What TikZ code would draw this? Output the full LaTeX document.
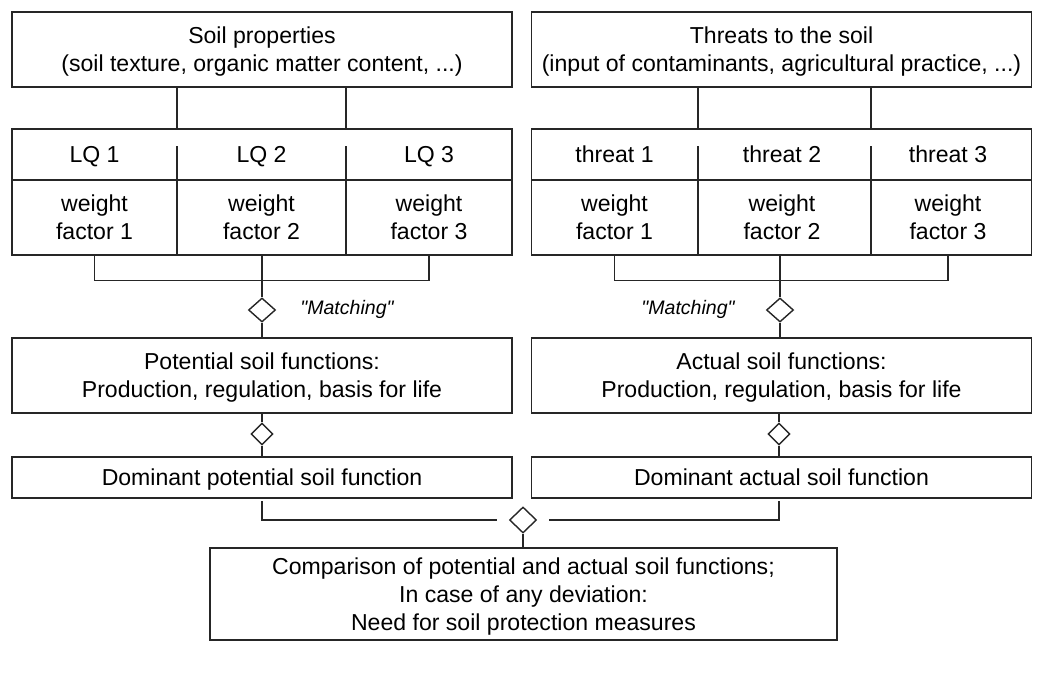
\documentclass[tikz,border=0pt]{standalone}
\usepackage{fontspec}
\setmainfont{Liberation Sans}
\usetikzlibrary{shapes.geometric}

\tikzset{
	box/.style={draw=black!85, line width=1pt, inner sep=0pt, align=center, text depth=0pt,
		minimum width=12.5cm, font=\fontsize{16.4}{19.9}\selectfont},
	lbl/.style={inner sep=0pt, align=center, text depth=0pt, font=\fontsize{16.4}{19.9}\selectfont},
	gate/.style={draw=black!85, line width=1pt, diamond, inner sep=0pt,
		minimum width=0.675cm, minimum height=0.6cm},
	small gate/.style={gate, minimum width=0.55cm, minimum height=0.55cm},
	match/.style={inner sep=0pt, font=\fontsize{13.9}{16}\selectfont\itshape},
	link/.style={draw=black!85, line width=1pt}
}

\begin{document}
\begin{tikzpicture}[x=0.025cm, y=-0.025cm]
	\useasboundingbox (0,0) rectangle (1060,678);

	% left column
	\node[box, minimum height=1.875cm]  (props)  at (262,49.5)  {Soil properties\\(soil texture, organic matter content, ...)};
	\node[box, minimum height=1.275cm]  (lqhead) at (262,154.5) {};
	\node[box, minimum height=1.875cm]  (lqwt)   at (262,217.5) {};
	\node[lbl] (lq1) at (94.5,154.5)  {LQ 1};
	\node[lbl] (lq2) at (261.5,154.5) {LQ 2};
	\node[lbl] (lq3) at (429,154.5)   {LQ 3};
	\node[lbl] (lw1) at (94.5,217.5)  {weight\\factor 1};
	\node[lbl] (lw2) at (261.5,217.5) {weight\\factor 2};
	\node[lbl] (lw3) at (429,217.5)   {weight\\factor 3};
	\coordinate (ld1) at (177,146);
	\coordinate (ld2) at (346,146);

	\node[gate]  (mpot) at (262,310) {};
	\node[match] (mlbl) at (347,309) {\textquotedbl Matching\textquotedbl};
	\node[box, minimum height=1.875cm]  (potential) at (262,375.5) {Potential soil functions:\\Production, regulation, basis for life};
	\node[small gate] (gpot) at (262,434) {};
	\node[box, minimum height=1.025cm]  (dompot) at (262,477.5) {Dominant potential soil function};

	% right column
	\node[box, minimum height=1.875cm]  (threats) at (781.5,49.5)  {Threats to the soil\\(input of contaminants, agricultural practice, ...)};
	\node[box, minimum height=1.275cm]  (thhead)  at (781.5,154.5) {};
	\node[box, minimum height=1.875cm]  (thwt)    at (781.5,217.5) {};
	\node[lbl] (th1) at (614.5,154.5) {threat 1};
	\node[lbl] (th2) at (782,154.5)   {threat 2};
	\node[lbl] (th3) at (948,154.5)   {threat 3};
	\node[lbl] (tw1) at (614.5,217.5) {weight\\factor 1};
	\node[lbl] (tw2) at (782,217.5)   {weight\\factor 2};
	\node[lbl] (tw3) at (948,217.5)   {weight\\factor 3};
	\coordinate (rd1) at (698,146);
	\coordinate (rd2) at (871,146);

	\node[gate]  (mact) at (780,310) {};
	\node[match] (albl) at (688,309) {\textquotedbl Matching\textquotedbl};
	\node[box, minimum height=1.875cm]  (actual) at (781.5,375.5) {Actual soil functions:\\Production, regulation, basis for life};
	\node[small gate] (gact) at (779,434) {};
	\node[box, minimum height=1.025cm]  (domact) at (781.5,477.5) {Dominant actual soil function};

	% bottom
	\node[gate, minimum width=0.675cm, minimum height=0.65cm] (gcmp) at (523,520) {};
	\node[box, minimum width=15.675cm, minimum height=2.3cm] (cmp) at (523.5,594)
		{Comparison of potential and actual soil functions;\\In case of any deviation:\\Need for soil protection measures};
	\coordinate (pj) at (262,501);
	\coordinate (aj) at (779,501);

	% links, left
	\draw[link] (props.south -| ld1) -- (lqhead.north -| ld1);
	\draw[link] (props.south -| ld2) -- (lqhead.north -| ld2);
	\draw[link] (ld1) -- (lqwt.south -| ld1);
	\draw[link] (ld2) -- (lqwt.south -| ld2);
	\draw[link] (lqwt.south -| lq1) -- ++(0,25) -| (lqwt.south -| lq3);
	\draw[link] (lqwt.south -| mpot) -- (mpot);
	\draw[link] (mpot) -- (potential.north -| mpot);
	\draw[link] (potential) -- (gpot);
	\draw[link] (gpot) -- (dompot.north -| gpot);

	% links, right
	\draw[link] (threats.south -| rd1) -- (thhead.north -| rd1);
	\draw[link] (threats.south -| rd2) -- (thhead.north -| rd2);
	\draw[link] (rd1) -- (thwt.south -| rd1);
	\draw[link] (rd2) -- (thwt.south -| rd2);
	\draw[link] (thwt.south -| th1) -- ++(0,25) -| (thwt.south -| th3);
	\draw[link] (thwt.south -| mact) -- (mact);
	\draw[link] (mact) -- (actual.north -| mact);
	\draw[link] (actual.south -| gact) -- (gact);
	\draw[link] (gact) -- (domact.north -| gact);

	% links, bottom
	\draw[link, shorten >=0.3cm] (pj) |- (gcmp);
	\draw[link, shorten >=0.3cm] (aj) |- (gcmp);
	\draw[link] (gcmp) -- (cmp.north -| gcmp);
\end{tikzpicture}
\end{document}
